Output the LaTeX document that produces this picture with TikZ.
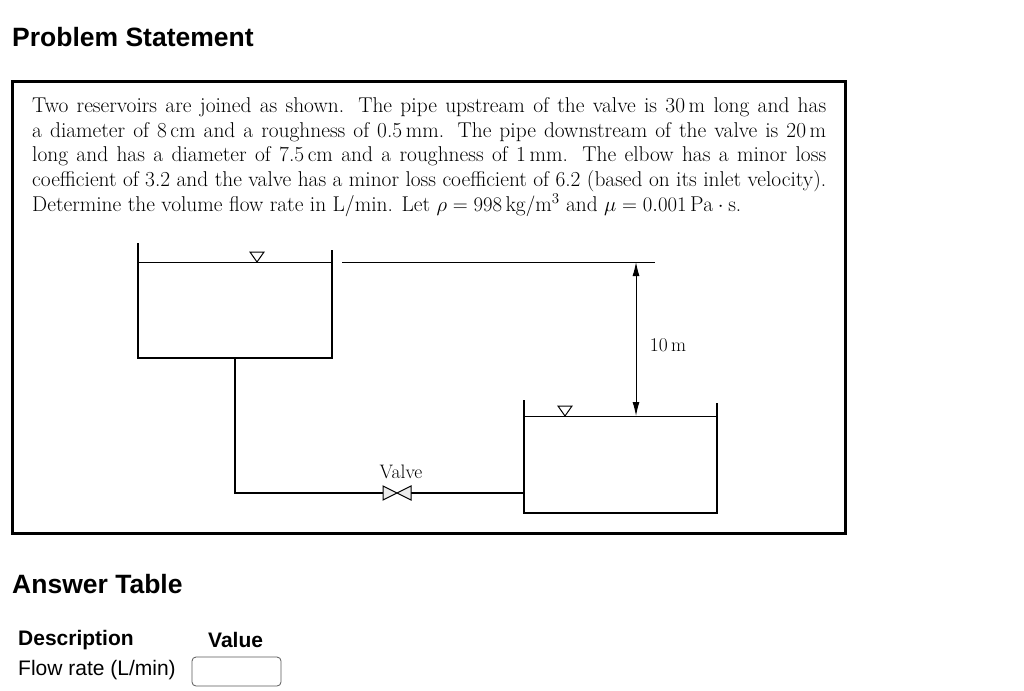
\documentclass[tikz,border=0pt]{standalone}
\usepackage{fontspec}
\newfontfamily\arial{Liberation Sans}
\usetikzlibrary{arrows.meta}
\begin{document}
\begin{tikzpicture}[x=1pt,y=-1pt,
  wall/.style={line width=1.3pt},
  head/.style={font=\arial\bfseries\fontsize{26.5}{28}\selectfont,anchor=west,inner sep=0},
  sub/.style={font=\arial\bfseries\fontsize{21}{24}\selectfont,anchor=west,inner sep=0},
  plain/.style={font=\arial\fontsize{21}{24}\selectfont,anchor=west,inner sep=0},
  lbl/.style={font=\fontsize{19.5}{21}\selectfont,inner sep=0},
  surf/.style={line width=1pt}]
\useasboundingbox (0,0) rectangle (1024,690);
\node[head] (title) at (12,37) {Problem Statement};
\draw[line width=3pt] (12,82) rectangle (845,533);
\node[anchor=north west,inner sep=0,text width=794pt,align=justify,font=\fontsize{21.4}{24.8}\selectfont] (txt) at (32,97)
{Two reservoirs are joined as shown. The pipe upstream of the valve is 30\,m long and has\linebreak a diameter of 8\,cm and a roughness of 0.5\,mm. The pipe downstream of the valve is 20\,m\linebreak long and has a diameter of 7.5\,cm and a roughness of 1\,mm. The elbow has a minor loss\linebreak coefficient of 3.2 and the valve has a minor loss coefficient of 6.2 (based on its inlet velocity).\linebreak Determine the volume flow rate in L/min. Let $\rho=998\,\mathrm{kg/m^3}$ and $\mu=0.001\,\mathrm{Pa\cdot s}$.};
% left tank
\draw[wall] (138,243) -- (138,358) -- (332,358) -- (332,250);
\draw[surf] (138,262) -- (332,262);
\draw[surf] (250,252) -- (264,252) -- (257,262) -- cycle;
\coordinate (refa) at (342,262);
\coordinate (refb) at (655,262);
\draw[surf] (refa) -- (refb);
% right tank
\draw[wall] (524,400) -- (524,513) -- (717,513) -- (717,403);
\draw[surf] (524,416) -- (717,416);
\draw[surf] (558,406) -- (572,406) -- (565,416) -- cycle;
\coordinate (ta) at (636,262);
\coordinate (tb) at (636,416);
\draw[surf,{Latex[length=14pt,width=7pt]}-{Latex[length=14pt,width=7pt]}] (ta) -- (tb);
\node[lbl] (h) at (668,345) {10\,m};
% pipe
\coordinate (p0) at (235,358);
\coordinate (p1) at (235,493);
\coordinate (v0) at (383,493);
\coordinate (v1) at (411,493);
\coordinate (p2) at (524,493);
\draw[wall] (p0) -- (p1) -- (v0);
\draw[wall] (v1) -- (p2);
\draw[line width=1pt,fill=gray!15] (383,486) -- (411,500) -- (411,486) -- (383,500) -- cycle;
\node[lbl] (valve) at (401,472) {Valve};
% answer table
\node[head] (ans) at (12,584) {Answer Table};
\node[sub] (desc) at (18,640) {Description};
\node[sub] (val) at (208,640) {Value};
\node[plain] (fr) at (18,670) {Flow rate (L/min)};
\draw[rounded corners=4pt,line width=0.8pt,draw=gray!70!black] (192,657) rectangle (281,686);
\end{tikzpicture}
\end{document}
